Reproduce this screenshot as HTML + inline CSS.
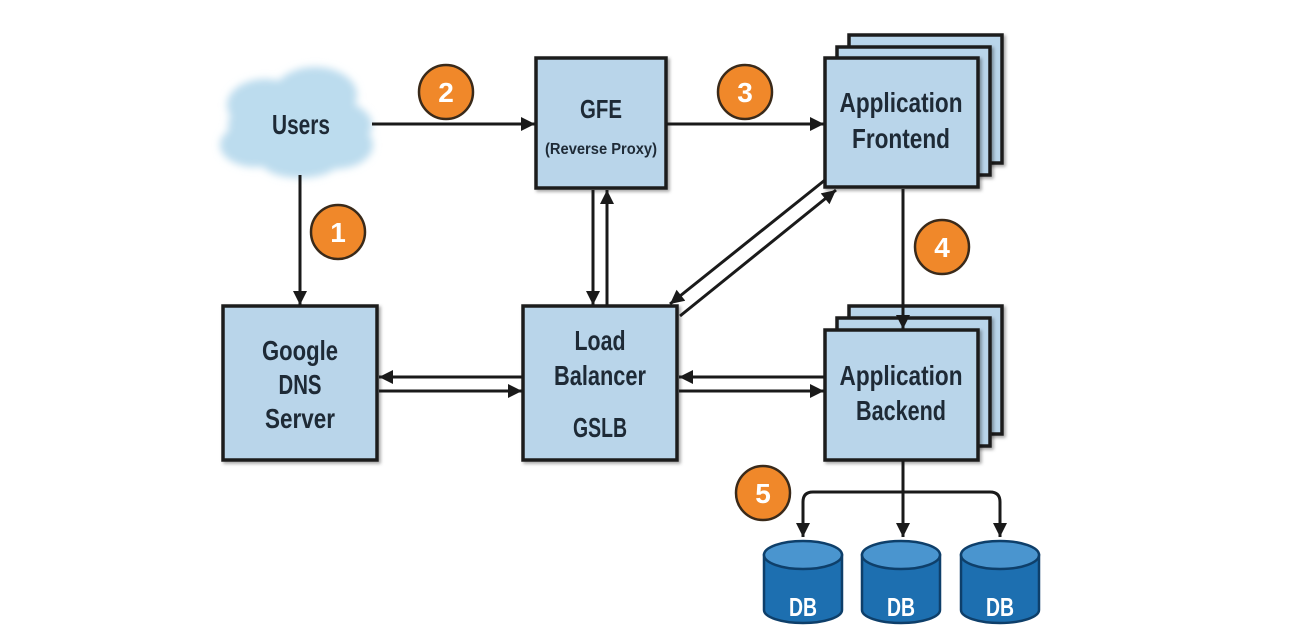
<!DOCTYPE html>
<html><head><meta charset="utf-8"><style>
html,body{margin:0;padding:0;background:#fff;width:1291px;height:640px;overflow:hidden}
svg text{font-family:"Liberation Sans Narrow","Liberation Sans",sans-serif;fill:#1e2a36}
</style></head><body>
<svg width="1291" height="640" viewBox="0 0 1291 640" xmlns="http://www.w3.org/2000/svg">
<defs>
<marker id="a" viewBox="0 0 10 10" refX="10" refY="5" markerWidth="18" markerHeight="14" orient="auto-start-reverse" markerUnits="userSpaceOnUse" >
<path d="M0,0 L10,5 L0,10 z" fill="#1a1a1a"/></marker>
<filter id="blur"><feGaussianBlur stdDeviation="4"/></filter>
<filter id="sh"><feDropShadow dx="2" dy="2" stdDeviation="1.5" flood-color="#000" flood-opacity="0.35"/></filter>
</defs>
<style>
.bx{fill:#b9d5ea;stroke:#1e1e1e;stroke-width:3.5;filter:url(#sh)}
.ln{stroke:#1a1a1a;stroke-width:3;fill:none}
.oc{fill:#f0882a;stroke:#3a2a1a;stroke-width:2.5}
.on{fill:#fff;font-weight:bold;font-size:28px}
.t{font-weight:bold}
</style>
<g filter="url(#blur)" fill="#bcdcee">
<ellipse cx="300" cy="125" rx="72" ry="32"/>
<ellipse cx="265" cy="105" rx="38" ry="26"/>
<ellipse cx="315" cy="95" rx="42" ry="28"/>
<ellipse cx="255" cy="145" rx="35" ry="22"/>
<ellipse cx="335" cy="145" rx="38" ry="24"/>
<ellipse cx="300" cy="160" rx="40" ry="18"/>
</g>
<text class="t" x="301" y="134" font-size="28" text-anchor="middle" textLength="58" lengthAdjust="spacingAndGlyphs">Users</text>

<rect class="bx" x="849" y="35" width="153" height="128"/>
<rect class="bx" x="837" y="47" width="153" height="128"/>
<rect class="bx" x="825" y="58" width="153" height="129"/>
<rect class="bx" x="849" y="306" width="153" height="128"/>
<rect class="bx" x="837" y="318" width="153" height="128"/>
<rect class="bx" x="825" y="330" width="153" height="130"/>

<rect class="bx" x="536" y="58" width="130" height="130"/>
<rect class="bx" x="223" y="306" width="154" height="154"/>
<rect class="bx" x="523" y="306" width="154" height="154"/>

<line class="ln" x1="372" y1="124" x2="535" y2="124" marker-end="url(#a)"/>
<line class="ln" x1="667" y1="124" x2="824" y2="124" marker-end="url(#a)"/>
<line class="ln" x1="300" y1="175" x2="300" y2="305" marker-end="url(#a)"/>
<line class="ln" x1="593" y1="190" x2="593" y2="305" marker-end="url(#a)"/>
<line class="ln" x1="607" y1="305" x2="607" y2="190" marker-end="url(#a)"/>
<line class="ln" x1="522" y1="377" x2="379" y2="377" marker-end="url(#a)"/>
<line class="ln" x1="379" y1="391" x2="522" y2="391" marker-end="url(#a)"/>
<line class="ln" x1="824" y1="377" x2="679" y2="377" marker-end="url(#a)"/>
<line class="ln" x1="679" y1="391" x2="824" y2="391" marker-end="url(#a)"/>
<line class="ln" x1="825" y1="180" x2="670" y2="304" marker-end="url(#a)"/>
<line class="ln" x1="680" y1="316" x2="836" y2="190" marker-end="url(#a)"/>
<line class="ln" x1="903" y1="189" x2="903" y2="329" marker-end="url(#a)"/>
<line class="ln" x1="903" y1="461" x2="903" y2="537" marker-end="url(#a)"/>
<path class="ln" d="M803,537 L803,502 Q803,492 813,492 L990,492 Q1000,492 1000,502 L1000,537" marker-start="url(#a)" marker-end="url(#a)"/>

<text class="t" x="601" y="118" font-size="26" text-anchor="middle" textLength="42" lengthAdjust="spacingAndGlyphs">GFE</text>
<text class="t" x="601" y="154" font-size="16" text-anchor="middle" textLength="112" lengthAdjust="spacingAndGlyphs">(Reverse Proxy)</text>
<text class="t" x="901" y="112" font-size="28" text-anchor="middle" textLength="123" lengthAdjust="spacingAndGlyphs">Application</text>
<text class="t" x="901" y="148" font-size="28" text-anchor="middle" textLength="98" lengthAdjust="spacingAndGlyphs">Frontend</text>
<text class="t" x="901" y="385" font-size="28" text-anchor="middle" textLength="123" lengthAdjust="spacingAndGlyphs">Application</text>
<text class="t" x="901" y="420" font-size="28" text-anchor="middle" textLength="90" lengthAdjust="spacingAndGlyphs">Backend</text>
<text class="t" x="300" y="360" font-size="28" text-anchor="middle" textLength="76" lengthAdjust="spacingAndGlyphs">Google</text>
<text class="t" x="300" y="394" font-size="28" text-anchor="middle" textLength="43" lengthAdjust="spacingAndGlyphs">DNS</text>
<text class="t" x="300" y="428" font-size="28" text-anchor="middle" textLength="70" lengthAdjust="spacingAndGlyphs">Server</text>
<text class="t" x="600" y="350" font-size="28" text-anchor="middle" textLength="51" lengthAdjust="spacingAndGlyphs">Load</text>
<text class="t" x="600" y="385" font-size="28" text-anchor="middle" textLength="92" lengthAdjust="spacingAndGlyphs">Balancer</text>
<text class="t" x="600" y="437" font-size="28" text-anchor="middle" textLength="54" lengthAdjust="spacingAndGlyphs">GSLB</text>

<g id="db">
<path d="M764,555 L764,610 A39,13 0 0 0 842,610 L842,555 z" fill="#1d6fb0" stroke="#0e3f6a" stroke-width="2.5"/>
<ellipse cx="803" cy="555" rx="39" ry="14" fill="#4a95cf" stroke="#0e3f6a" stroke-width="2.5"/>
<text class="t" x="803" y="616" font-size="26" text-anchor="middle" style="fill:#fff" textLength="28" lengthAdjust="spacingAndGlyphs">DB</text>
</g>
<use href="#db" x="98"/>
<use href="#db" x="197"/>

<circle class="oc" cx="338" cy="232" r="27"/><text class="on" x="338" y="242" text-anchor="middle" style="fill:#fff">1</text>
<circle class="oc" cx="446" cy="92" r="27"/><text class="on" x="446" y="102" text-anchor="middle" style="fill:#fff">2</text>
<circle class="oc" cx="745" cy="92" r="27"/><text class="on" x="745" y="102" text-anchor="middle" style="fill:#fff">3</text>
<circle class="oc" cx="942" cy="247" r="27"/><text class="on" x="942" y="257" text-anchor="middle" style="fill:#fff">4</text>
<circle class="oc" cx="763" cy="493" r="27"/><text class="on" x="763" y="503" text-anchor="middle" style="fill:#fff">5</text>
</svg>
</body></html>
